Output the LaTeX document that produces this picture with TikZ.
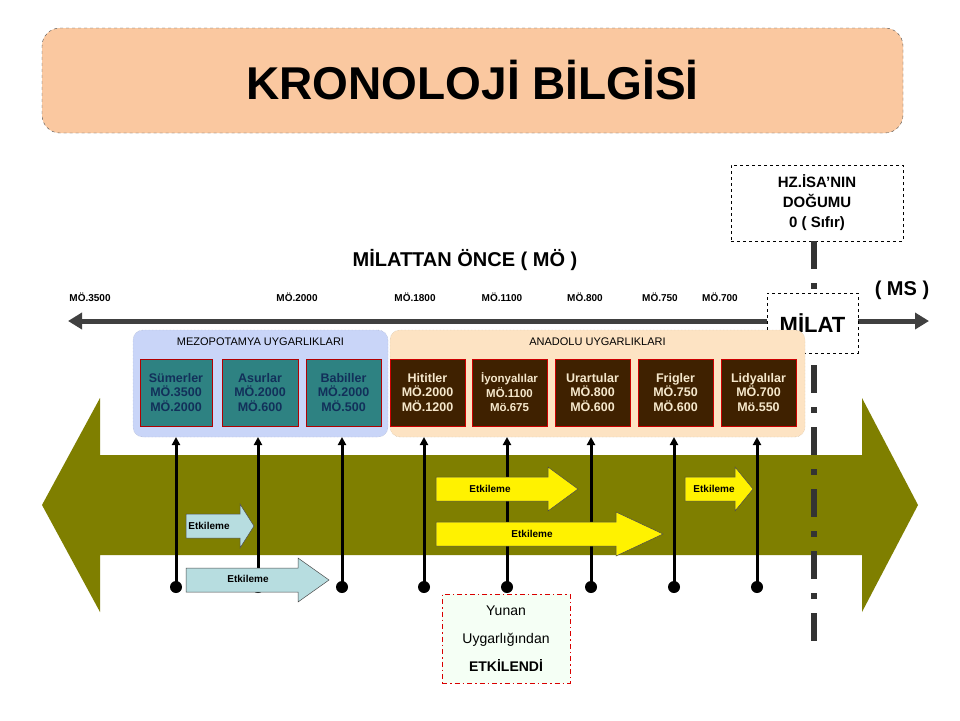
\documentclass[tikz,border=0pt]{standalone}
\usepackage{fontspec}
\setmainfont{Liberation Sans}
\usetikzlibrary{arrows.meta}
\definecolor{peach}{HTML}{FAC8A0}
\definecolor{olive}{HTML}{7F7F00}
\definecolor{mezo}{HTML}{C9D5F8}
\definecolor{anad}{HTML}{FDE3C3}
\definecolor{tealb}{HTML}{2E8282}
\definecolor{brownb}{HTML}{3F2100}
\definecolor{lblue}{HTML}{B7DDE0}
\definecolor{navyt}{HTML}{12305A}
\definecolor{beige}{HTML}{F6E8CC}
\tikzset{
 civT/.style={draw=red!70!black,fill=tealb,minimum width=72pt,minimum height=67pt,align=center,font=\bfseries\fontsize{12.5}{14.5}\selectfont,text=navyt,inner sep=1pt},
 civB/.style={draw=red!80!black,fill=brownb,minimum width=75pt,minimum height=67pt,align=center,font=\bfseries\fontsize{12.5}{14.5}\selectfont,text=beige,inner sep=1pt},
 yr/.style={font=\bfseries\fontsize{10}{12}\selectfont},
 pole/.style={line width=3pt,-{Triangle[length=8pt,width=8pt]}},
 dotc/.style={circle,fill=black,inner sep=0pt,minimum size=12pt},
 etk/.style={draw=gray!60!black,line width=0.5pt},
 etkt/.style={font=\fontsize{10}{12}\selectfont\bfseries},
}
\begin{document}
\begin{tikzpicture}[x=1pt,y=-1pt]
\useasboundingbox (0,0) rectangle (960,720);
\fill[white] (0,0) rectangle (960,720);
% title
\node[draw=gray!60!black,dashed,fill=peach,rounded corners=18pt,minimum width=861pt,minimum height=105pt,font=\bfseries\fontsize{46}{50}\selectfont] (title) at (472.5,80.5) {KRONOLOJİ BİLGİSİ};
% olive big double arrow
\fill[olive] (42,505) -- (100,398) -- (100,455) -- (862,455) -- (862,398) -- (918,505) -- (862,612) -- (862,555) -- (100,555) -- (100,612) -- cycle;
% HZ ISA box
\node[draw,dashed,fill=white,minimum width=172pt,minimum height=76pt,align=center,font=\bfseries\fontsize{15}{20}\selectfont] (isa) at (817,203) {HZ.İSA’NIN\\DOĞUMU\\0 ( Sıfır)};
% dashed vertical line
\coordinate (vtop) at (814,241);
\coordinate (vbot) at (814,655);
\draw[line width=6pt,color=black!80,dash pattern=on 28pt off 14pt on 6pt off 14pt] (vtop) -- (vbot);
% headings
\node[font=\bfseries\fontsize{20}{24}\selectfont] (mo) at (465,260) {MİLATTAN ÖNCE ( MÖ )};
\node[font=\bfseries\fontsize{20}{24}\selectfont] (ms) at (902,290) {( MS )};
% year labels
\foreach \n/\x/\t in {a/90/MÖ.3500,b/297/MÖ.2000,c/415/MÖ.1800,d/502/MÖ.1100,e/585/MÖ.800,f/660/MÖ.750,g/720/MÖ.700}
  \node[yr] (y\n) at (\x,297) {\t};
% timeline
\coordinate (tl) at (68,321);
\coordinate (tr) at (929,321);
\draw[line width=5pt,color=black!75,{Triangle[length=14pt,width=16pt]}-{Triangle[length=14pt,width=16pt]}] (tl) -- (tr);
% milat box
\node[draw,dashed,fill=white,minimum width=91pt,minimum height=60pt,font=\bfseries\fontsize{22}{26}\selectfont] (milat) at (812.5,323) {MİLAT};
% groups
\node[draw=mezo!80!black,densely dotted,fill=mezo,rounded corners=10pt,minimum width=255pt,minimum height=107pt] (mezo) at (260.5,383.5) {};
\node[draw=anad!80!black,densely dotted,fill=anad,rounded corners=10pt,minimum width=415pt,minimum height=107pt] (anad) at (597.5,383.5) {};
\node[font=\fontsize{11}{13}\selectfont] (mezol) at (260.5,342) {MEZOPOTAMYA UYGARLIKLARI};
\node[font=\fontsize{11}{13}\selectfont] (anadl) at (597.5,342) {ANADOLU UYGARLIKLARI};
% civilisations
\node[civT] (c1) at (176,392.5) {Sümerler\\MÖ.3500\\MÖ.2000};
\node[civT,minimum width=76pt] (c2) at (260,392.5) {Asurlar\\MÖ.2000\\MÖ.600};
\node[civT,minimum width=75pt] (c3) at (343.5,392.5) {Babiller\\MÖ.2000\\MÖ.500};
\node[civB] (c4) at (427.5,392.5) {Hititler\\MÖ.2000\\MÖ.1200};
\node[civB,font=\bfseries\fontsize{11.5}{14.5}\selectfont] (c5) at (509.5,392.5) {İyonyalılar\\MÖ.1100\\Mö.675};
\node[civB] (c6) at (592.5,392.5) {Urartular\\MÖ.800\\MÖ.600};
\node[civB] (c7) at (675.5,392.5) {Frigler\\MÖ.750\\MÖ.600};
\node[civB] (c8) at (758.5,392.5) {Lidyalılar\\MÖ.700\\Mö.550};
% poles
\foreach \i/\x in {1/176,2/258,3/342,4/424,5/507,6/591,7/674,8/757}{
  \node[dotc] (d\i) at (\x,587) {};
  \draw[pole] (d\i.center) -- (\x,437);
}
% etkileme arrows
\foreach \nm/\xa/\xb/\xh/\yc/\col in {e1/186/254/240/526/lblue,e2/186/329/298/580/lblue,e3/436/578/548/489/yellow,e4/436/663/616/534/yellow,e5/685/753/735/489/yellow}{
  \filldraw[fill=\col,etk] (\xa,\yc-12) -- (\xh,\yc-12) -- (\xh,\yc-22) -- (\xb,\yc) -- (\xh,\yc+22) -- (\xh,\yc+12) -- (\xa,\yc+12) -- cycle;
}
\node[etkt] (t1) at (209,526) {Etkileme};
\node[etkt] (t2) at (248,579) {Etkileme};
\node[etkt] (t3) at (490,489) {Etkileme};
\node[etkt] (t4) at (532,534) {Etkileme};
\node[etkt] (t5) at (714,489) {Etkileme};
% yunan box
\node[draw=red!85!black,line width=1pt,dash pattern=on 5pt off 3pt on 1.5pt off 3pt,fill=green!4,minimum width=128pt,minimum height=89pt,align=center,font=\fontsize{14}{28}\selectfont] (yunan) at (506,638.5) {Yunan\\Uygarlığından\\\textbf{ETKİLENDİ}};
\end{tikzpicture}
\end{document}
